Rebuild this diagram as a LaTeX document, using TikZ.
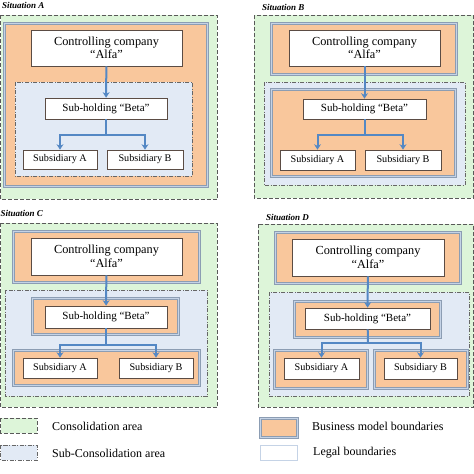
\documentclass[tikz,border=0pt]{standalone}
\usepackage{fontspec}
\setmainfont{Liberation Serif}
\usetikzlibrary{arrows.meta}
\definecolor{consgreen}{HTML}{DDF5D9}
\definecolor{subblue}{HTML}{E2EAF5}
\definecolor{bizorange}{HTML}{F9C79C}
\definecolor{bizedge}{HTML}{8C9DB3}
\definecolor{bizinner}{HTML}{C5D3E6}
\definecolor{legaledge}{HTML}{5B4C44}
\definecolor{linkblue}{HTML}{5488C4}
\begin{document}
\begin{tikzpicture}[x=1pt,y=-1pt,
  cons/.style={fill=consgreen,draw=black!65,line width=0.8pt,dash pattern=on 4pt off 2pt},
  subcons/.style={fill=subblue,draw=black!60,line width=0.8pt,dash pattern=on 4pt off 1.5pt on 1pt off 1.5pt},
  biz/.style={fill=bizorange,draw=bizedge,line width=1pt,double=bizinner,double distance=1pt},
  legal/.style={fill=white,draw=legaledge,line width=0.7pt,inner sep=0pt,align=center},
  trunk/.style={draw=linkblue,line width=2pt},
  link/.style={trunk,-{Stealth[length=5.5pt,width=7pt]}},
  title/.style={font=\fontsize{9}{10}\selectfont\bfseries\itshape,anchor=west,inner sep=0pt},
  legtext/.style={font=\fontsize{12}{13}\selectfont,anchor=west,inner sep=0pt}]
\useasboundingbox (0,0) rectangle (474,474);
\tikzstyle{every node}=[font=\fontsize{10.2}{11}\selectfont]
% Situation A
\node[title] (titleA) at (2,5) {Situation A};
\draw[cons](0.5,15) rectangle (217,199);
\draw[biz](4,23) rectangle (207,186);
\draw[subcons](15,82) rectangle (192,176);
\node[legal,minimum width=151,minimum height=36,font=\fontsize{12.3}{13.5}\selectfont] (alfaA) at (106.5,48) {Controlling company\\``Alfa''};
\node[legal,minimum width=122,minimum height=21,font=\fontsize{11}{12}\selectfont] (betaA) at (106,108.5) {Sub-holding ``Beta''};
\node[legal,minimum width=74,minimum height=19] (subaA) at (60,159.5) {Subsidiary A};
\node[legal,minimum width=76,minimum height=19] (subbA) at (145,159.5) {Subsidiary B};
\coordinate (brA) at (106,135);
\draw[link](alfaA)--(betaA);
\draw[trunk](betaA)--(brA);
\draw[link](brA)-|(subaA);
\draw[link](brA)-|(subbA);
% Situation B
\node[title] (titleB) at (262,7) {Situation B};
\draw[cons](254,15) rectangle (473.5,198);
\draw[biz](271,23) rectangle (456,74);
\draw[subcons](264,82) rectangle (465,185);
\draw[biz](271,89) rectangle (455,176);
\node[legal,minimum width=151,minimum height=36,font=\fontsize{12.3}{13.5}\selectfont] (alfaB) at (364.5,48) {Controlling company\\``Alfa''};
\node[legal,minimum width=123,minimum height=20,font=\fontsize{11}{12}\selectfont] (betaB) at (364.5,109) {Sub-holding ``Beta''};
\node[legal,minimum width=75,minimum height=20] (subaB) at (317.5,160) {Subsidiary A};
\node[legal,minimum width=76,minimum height=20] (subbB) at (403,160) {Subsidiary B};
\coordinate (brB) at (364.5,135);
\draw[link](alfaB)--(betaB);
\draw[trunk](betaB)--(brB);
\draw[link](brB)-|(subaB);
\draw[link](brB)-|(subbB);
% Situation C
\node[title] (titleC) at (0.5,213) {Situation C};
\draw[cons](0.5,223) rectangle (217,407);
\draw[biz](13,231) rectangle (199,282);
\draw[subcons](5,290) rectangle (207,396);
\draw[biz](32,298) rectangle (178,334);
\draw[biz](13,350) rectangle (199,385);
\node[legal,minimum width=151,minimum height=37,font=\fontsize{12.3}{13.5}\selectfont] (alfaC) at (106.5,256.5) {Controlling company\\``Alfa''};
\node[legal,minimum width=122,minimum height=22,font=\fontsize{11}{12}\selectfont] (betaC) at (106,317) {Sub-holding ``Beta''};
\node[legal,minimum width=74,minimum height=20] (subaC) at (60,368) {Subsidiary A};
\node[legal,minimum width=74,minimum height=20] (subbC) at (156,368) {Subsidiary B};
\coordinate (brC) at (106,345);
\draw[link](alfaC)--(betaC);
\draw[trunk](betaC)--(brC);
\draw[link](brC)-|(subaC);
\draw[link](brC)-|(subbC);
% Situation D
\node[title] (titleD) at (266,217) {Situation D};
\draw[cons](258,224) rectangle (473.5,407);
\draw[biz](275,232) rectangle (460,283);
\draw[subcons](269,292) rectangle (469,396);
\draw[biz](294,301) rectangle (440,337);
\draw[biz](274,350) rectangle (367,388);
\draw[biz](374,350) rectangle (467,388);
\node[legal,minimum width=152,minimum height=37,font=\fontsize{12.3}{13.5}\selectfont] (alfaD) at (368,257.5) {Controlling company\\``Alfa''};
\node[legal,minimum width=125,minimum height=21,font=\fontsize{11}{12}\selectfont] (betaD) at (367.5,318.5) {Sub-holding ``Beta''};
\node[legal,minimum width=75,minimum height=21] (subaD) at (321.5,368.5) {Subsidiary A};
\node[legal,minimum width=73,minimum height=21] (subbD) at (420.5,368.5) {Subsidiary B};
\coordinate (brD) at (368,343);
\draw[link](alfaD)--(betaD);
\draw[trunk](betaD)--(brD);
\draw[link](brD)-|(subaD);
\draw[link](brD)-|(subbD);
% legend
\draw[cons](0.5,418) rectangle (37,433);
\node[legtext] (legcons) at (52,426) {Consolidation area};
\draw[subcons](0.5,445) rectangle (37,460);
\node[legtext] (legsub) at (52,453) {Sub-Consolidation area};
\draw[biz](260,418) rectangle (297,437);
\node[legtext] (legbiz) at (312,426) {Business model boundaries};
\draw[fill=white,draw=bizinner,line width=1pt](260,445) rectangle (297,460);
\node[legtext] (leglegal) at (313,453) {Legal boundaries};
\end{tikzpicture}
\end{document}
